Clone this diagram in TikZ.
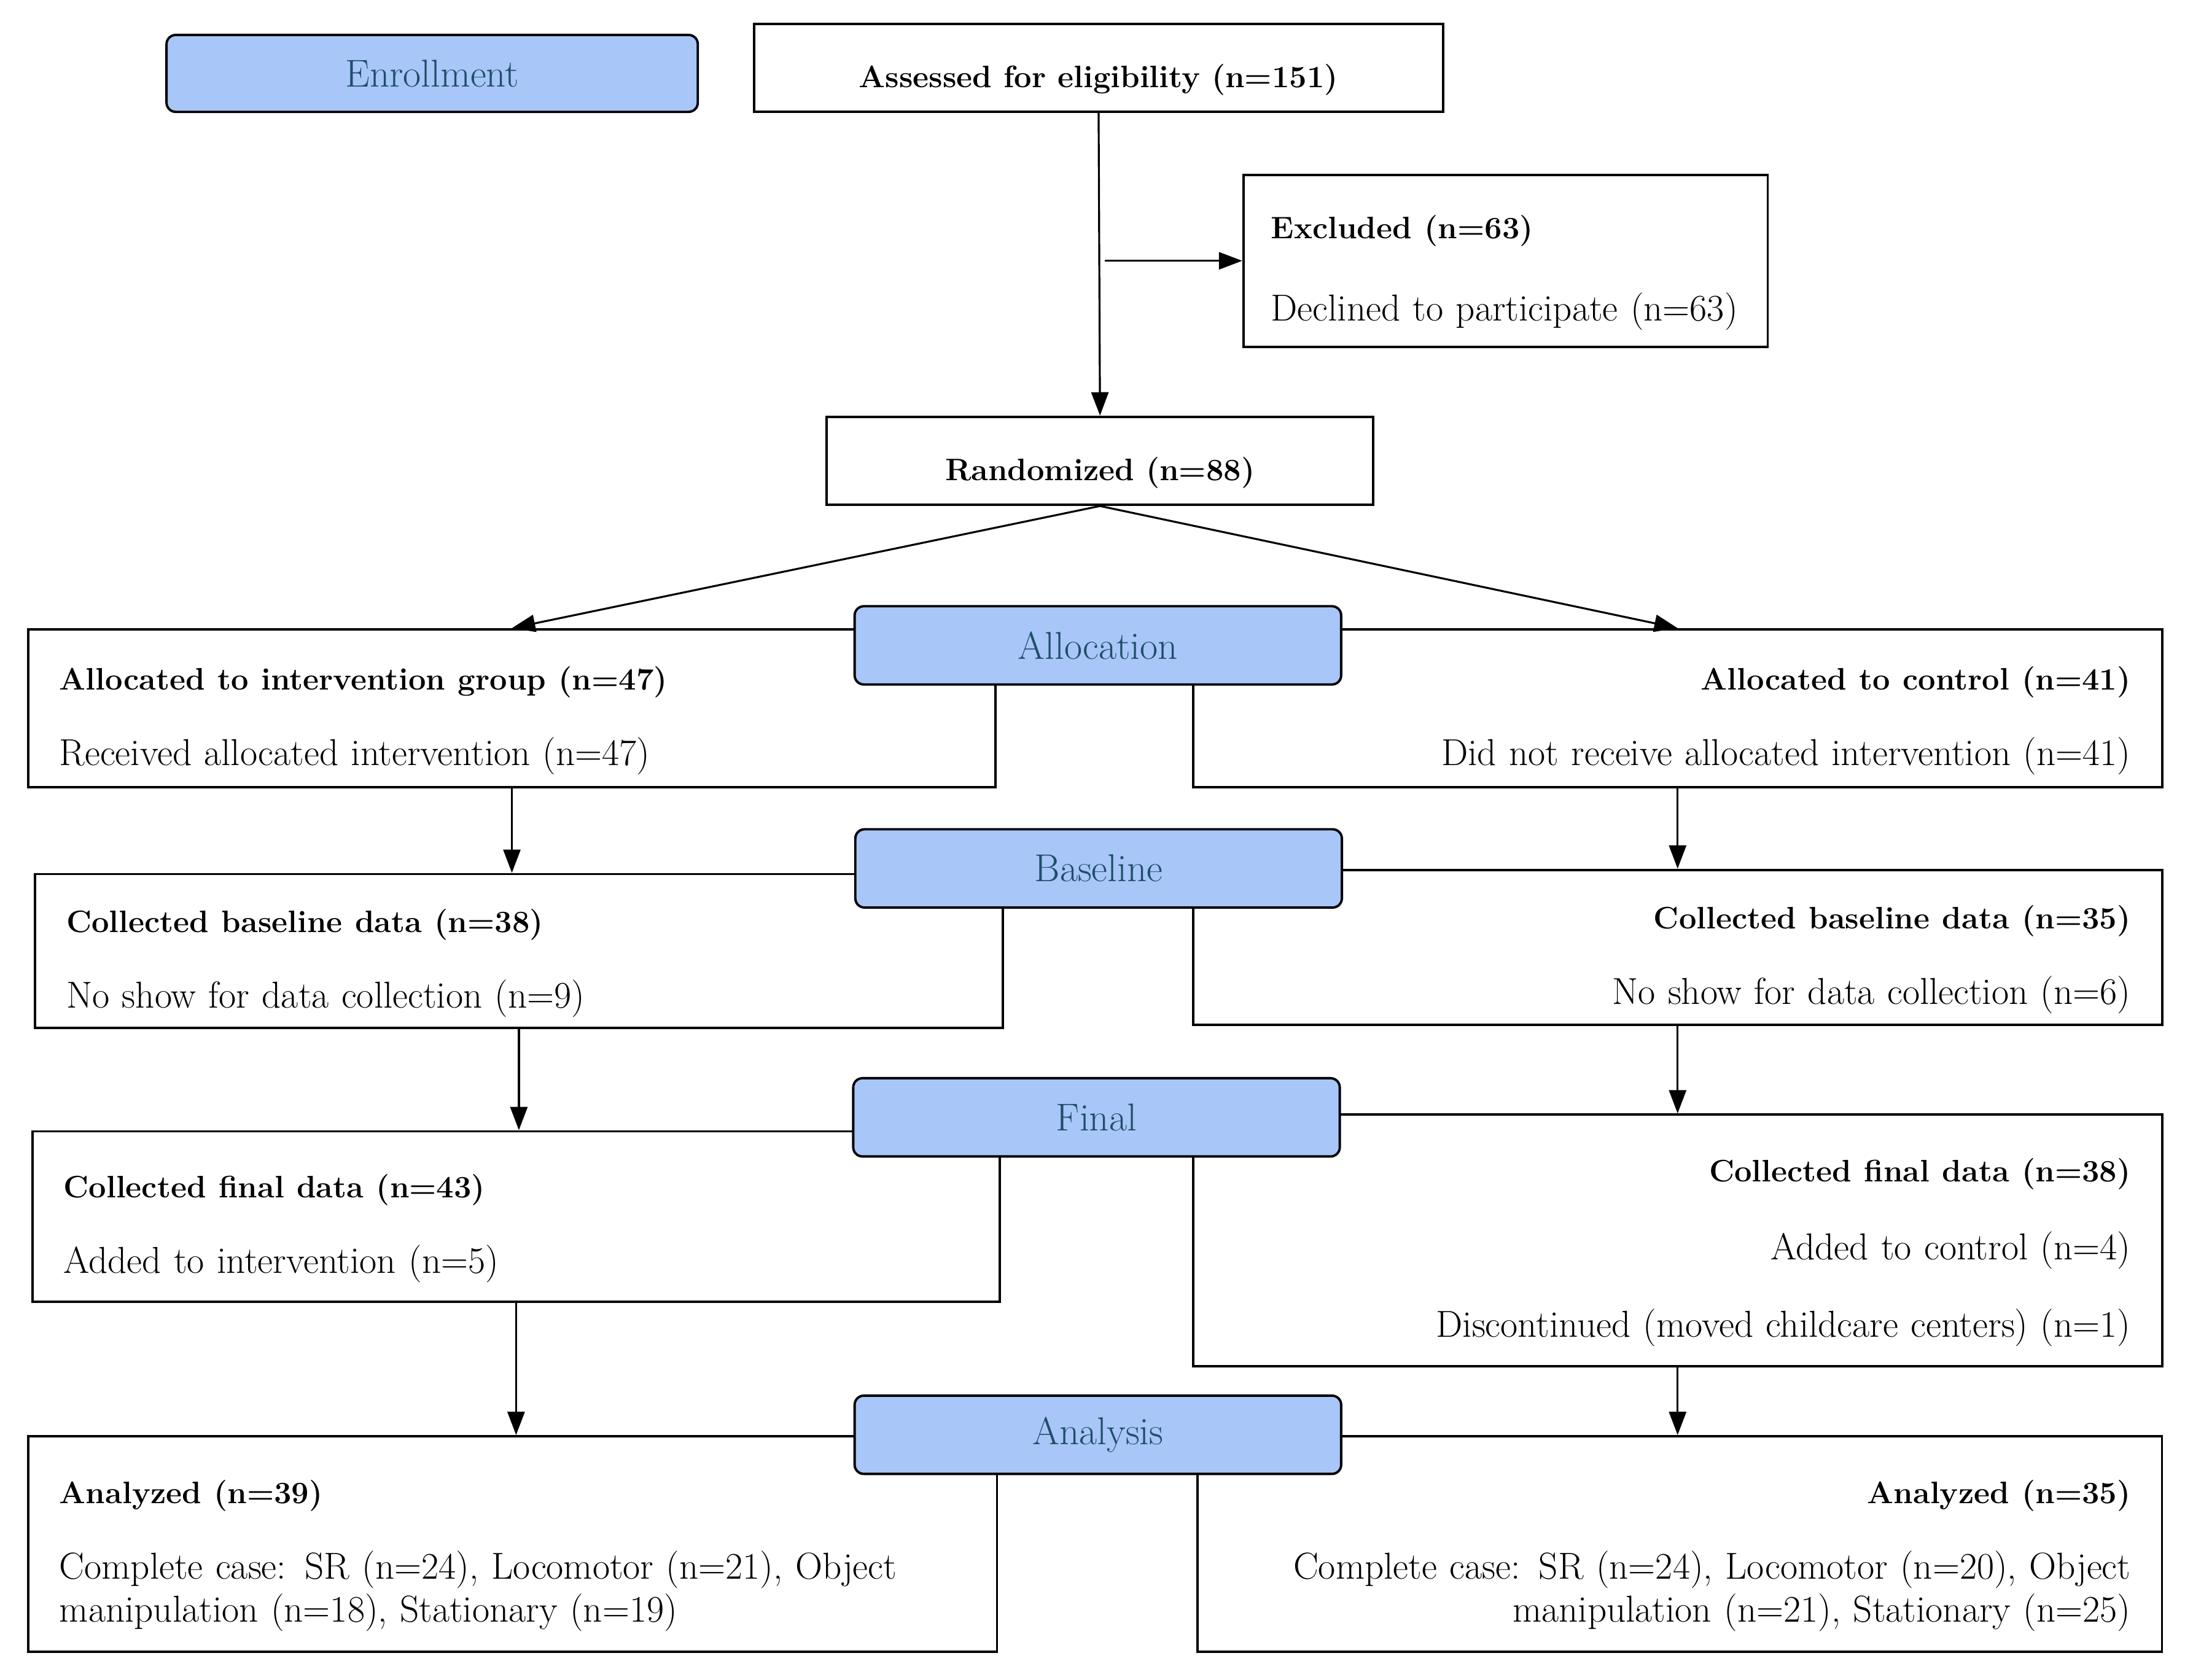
\documentclass[tikz,border=0pt]{standalone}
\usepackage{tikz}
\usetikzlibrary{arrows.meta}
\definecolor{lblfill}{RGB}{168,198,248}
\definecolor{lbltext}{RGB}{30,78,104}
\newcommand{\hd}[1]{{\rule{0pt}{22pt}\fontsize{14.4}{20}\selectfont\bfseries #1}}
\tikzset{
  flow/.style={draw, line width=1.1pt, fill=white, inner xsep=0.51cm, inner ysep=0pt,
    font=\fontsize{17.4}{20}\selectfont},
  lbl/.style={draw, line width=1.1pt, fill=lblfill, rounded corners=0.15cm, text=lbltext,
    minimum width=7.925cm, minimum height=1.275cm, font=\fontsize{18}{20}\selectfont},
  arr/.style={line width=0.9pt, -{Triangle[length=0.38cm, width=0.28cm]}}
}
\begin{document}
\begin{tikzpicture}[x=0.022774cm, y=-0.022774cm]
  \useasboundingbox (0,0) rectangle (1568,1201);
  % enrollment
  \node[lbl, minimum width=8.654cm, minimum height=1.253cm] (enrol) at (309,52.5) {Enrollment};
  \node[flow, minimum width=11.228cm, minimum height=1.435cm] (assess) at (785.5,48.5)
    {\hd{Assessed for eligibility (n=151)}};
  \node[flow, inner xsep=0.45cm, text width=7.64cm, minimum height=2.801cm, align=left] (excl) at (1076.5,186.5)
    {\hd{Excluded (n=63)}\\[18pt] Declined to participate (n=63)};
  \node[flow, minimum width=8.905cm, minimum height=1.435cm] (random) at (786.5,329.5)
    {\hd{Randomized (n=88)}};
  % group boxes
  \node[flow, text width=14.74cm, minimum height=2.573cm, align=left] (alloc-l) at (366,506.5)
    {\hd{Allocated to intervention group (n=47)}\\[15pt] Received allocated intervention (n=47)};
  \node[flow, text width=14.76cm, minimum height=2.573cm, align=right] (alloc-r) at (1199.5,506.5)
    {\hd{Allocated to control (n=41)}\\[15pt] Did not receive allocated intervention (n=41)};
  \node[flow, text width=14.74cm, minimum height=2.505cm, align=left] (base-l) at (371,680)
    {\hd{Collected baseline data (n=38)}\\[15pt] No show for data collection (n=9)};
  \node[flow, text width=14.76cm, minimum height=2.528cm, align=right] (base-r) at (1199.5,677.5)
    {\hd{Collected baseline data (n=35)}\\[15pt] No show for data collection (n=6)};
  \node[flow, text width=14.74cm, minimum height=2.778cm, align=left] (fin-l) at (369,870)
    {\hd{Collected final data (n=43)}\\[15pt] Added to intervention (n=5)};
  \node[flow, text width=14.76cm, minimum height=4.099cm, align=right] (fin-r) at (1199.5,887)
    {\hd{Collected final data (n=38)}\\[16pt] Added to control (n=4)\\[16pt]
     Discontinued (moved childcare centers) (n=1)};
  \node[flow, text width=14.76cm, minimum height=3.507cm, align=left] (ana-l) at (366.5,1104)
    {\hd{Analyzed (n=39)}\\[15pt] Complete case: SR (n=24), Locomotor (n=21), Object\\
     manipulation (n=18), Stationary (n=19)};
  \node[flow, text width=14.69cm, minimum height=3.507cm, align=right] (ana-r) at (1201,1104)
    {\hd{Analyzed (n=35)}\\[15pt] Complete case: SR (n=24), Locomotor (n=20), Object\\
     manipulation (n=21), Stationary (n=25)};
  % stage labels
  \node[lbl] (alloc) at (785,461.5) {Allocation};
  \node[lbl] (base) at (785.5,621) {Baseline};
  \node[lbl] (fin) at (784,799) {Final};
  \node[lbl] (ana) at (785,1026) {Analysis};
  % arrows
  \coordinate (exclfrom) at (790,186.5);
  \draw[arr] (assess.south) -- (random.north);
  \draw[arr] (exclfrom) -- (excl.west);
  \draw[arr] (random.south) -- (alloc-l.north);
  \draw[arr] (random.south) -- (alloc-r.north);
  \foreach \a/\b in {alloc-l/base-l, alloc-r/base-r, base-l/fin-l, base-r/fin-r, fin-l/ana-l, fin-r/ana-r}
    \draw[arr] (\a.south) -- (\a.south |- \b.north);
\end{tikzpicture}
\end{document}
